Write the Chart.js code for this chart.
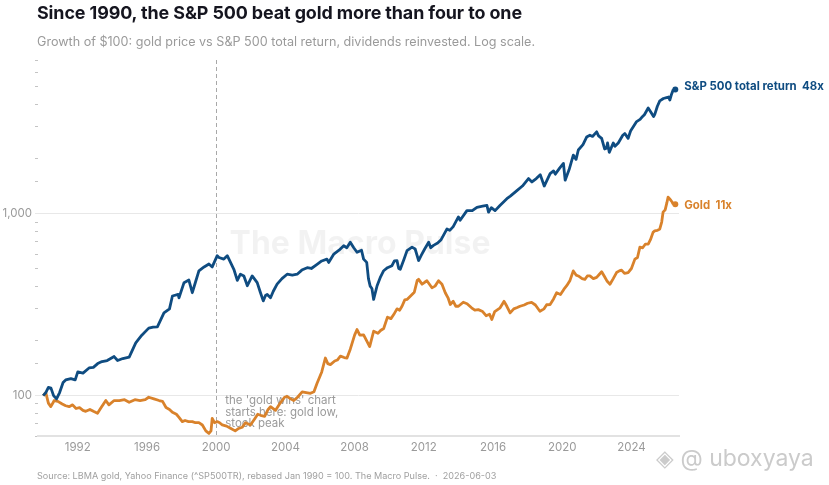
<!DOCTYPE html>
<html>
<head>
<meta charset="utf-8">
<script src="https://cdn.jsdelivr.net/npm/chart.js@4.4.1/dist/chart.umd.min.js"></script>
<style>
  html, body { margin: 0; padding: 0; background: #ffffff; }
  body { width: 829px; height: 485px; position: relative; overflow: hidden; font-family: Inter, "Noto Sans", sans-serif; }
  #title { position: absolute; left: 37px; top: 2px; font-size: 17.9px; font-weight: 700; color: #15151f; white-space: nowrap; letter-spacing: -0.1px; }
  #subtitle { position: absolute; left: 37px; top: 34px; font-size: 12.6px; color: #9a9a9a; white-space: nowrap; }
  #source { position: absolute; left: 37px; top: 470px; font-size: 9.1px; color: #a0a0a0; white-space: nowrap; }
  #wm { position: absolute; left: 656px; top: 444px; font-size: 23px; color: #cbcbcb; white-space: nowrap; }
  #wrap { position: absolute; left: 0; top: 0; width: 829px; height: 485px; }
</style>
</head>
<body>
<div id="wrap"><canvas id="c" width="829" height="485"></canvas></div>
<div id="title">Since 1990, the S&amp;P 500 beat gold more than four to one</div>
<div id="subtitle">Growth of $100: gold price vs S&amp;P 500 total return, dividends reinvested. Log scale.</div>
<div id="source">Source: LBMA gold, Yahoo Finance (^SP500TR), rebased Jan 1990 = 100. The Macro Pulse. &nbsp;·&nbsp; 2026-06-03</div>
<div id="wm">&#9672; @ uboxyaya</div>
<script>
// ---- Data ----
const spxYears = [1990.00,1990.15,1990.30,1990.45,1990.60,1990.77,1990.95,1991.15,1991.30,1991.60,1991.85,1992.00,1992.30,1992.65,1992.90,1993.15,1993.40,1993.70,1994.10,1994.30,1994.60,1994.97,1995.35,1995.70,1996.10,1996.35,1996.60,1996.98,1997.30,1997.47,1997.80,1997.85,1998.14,1998.42,1998.62,1998.80,1999.00,1999.30,1999.58,1999.77,2000.06,2000.16,2000.44,2000.64,2001.02,2001.22,2001.40,2001.60,2001.80,2002.08,2002.37,2002.55,2002.72,2002.85,2002.95,2003.14,2003.30,2003.52,2003.80,2004.10,2004.40,2004.68,2004.95,2005.26,2005.50,2005.83,2006.10,2006.40,2006.50,2006.80,2007.10,2007.37,2007.55,2007.75,2007.95,2008.14,2008.40,2008.52,2008.70,2008.80,2008.90,2009.00,2009.10,2009.30,2009.50,2009.68,2009.90,2010.16,2010.30,2010.45,2010.55,2010.64,2010.85,2011.03,2011.32,2011.50,2011.70,2011.85,2012.05,2012.28,2012.40,2012.56,2012.80,2013.00,2013.34,2013.50,2013.70,2014.00,2014.10,2014.49,2014.80,2015.07,2015.40,2015.65,2015.74,2015.90,2016.12,2016.40,2016.80,2017.00,2017.38,2017.70,2018.05,2018.25,2018.50,2018.73,2018.96,2019.30,2019.50,2019.60,2019.85,2020.07,2020.17,2020.40,2020.64,2020.80,2020.93,2021.20,2021.41,2021.60,2021.75,2021.99,2022.10,2022.28,2022.45,2022.56,2022.62,2022.72,2022.95,2023.05,2023.24,2023.50,2023.62,2023.81,2023.95,2024.30,2024.50,2024.60,2024.75,2024.97,2025.10,2025.28,2025.35,2025.50,2025.64,2025.85,2026.03,2026.15,2026.22,2026.32,2026.42];
const spxValues = [100,104,111,110,100,96,104,118,122,124,122,135,133,142,143,150,154,156,164,156,160,163,195,215,235,238,239,285,300,353,360,345,418,432,368,420,485,510,529,510,588,575,563,588,495,430,465,455,402,455,418,370,332,355,360,345,375,410,440,465,460,465,490,505,500,527,550,563,540,600,630,667,650,697,650,614,630,563,540,440,400,388,338,402,450,486,505,518,550,552,500,495,560,627,655,640,553,590,640,697,650,670,690,720,825,810,850,960,920,1040,1040,1085,1100,1110,1020,1080,1040,1110,1210,1250,1340,1420,1560,1495,1560,1640,1420,1660,1720,1650,1780,1890,1530,1750,2100,1990,2240,2400,2640,2700,2660,2820,2680,2595,2270,2290,2450,2175,2450,2350,2450,2700,2760,2595,2850,3210,3300,3390,3500,3810,3650,3420,3520,3900,4170,4300,4350,4380,4220,4540,4820];

const goldYears = [1990.00,1990.15,1990.30,1990.44,1990.64,1990.85,1991.10,1991.30,1991.50,1991.70,1991.90,1992.10,1992.30,1992.46,1992.70,1992.90,1993.14,1993.35,1993.62,1993.80,1994.10,1994.40,1994.70,1994.97,1995.30,1995.60,1995.90,1996.10,1996.40,1996.70,1996.90,1997.10,1997.30,1997.47,1997.70,1997.85,1998.04,1998.20,1998.40,1998.62,1998.80,1999.00,1999.20,1999.40,1999.58,1999.70,1999.77,1999.90,2000.06,2000.20,2000.35,2000.60,2000.85,2001.10,2001.30,2001.50,2001.70,2001.98,2002.20,2002.40,2002.56,2002.80,2003.00,2003.14,2003.43,2003.70,2003.95,2004.10,2004.30,2004.48,2004.70,2004.97,2005.20,2005.45,2005.65,2005.83,2006.10,2006.31,2006.45,2006.60,2006.85,2007.00,2007.18,2007.40,2007.56,2007.75,2008.00,2008.14,2008.30,2008.52,2008.70,2008.87,2009.10,2009.35,2009.50,2009.68,2009.90,2010.10,2010.26,2010.45,2010.60,2010.74,2010.90,2011.03,2011.22,2011.45,2011.62,2011.70,2011.90,2012.05,2012.18,2012.47,2012.65,2012.85,2013.05,2013.24,2013.40,2013.53,2013.70,2013.85,2014.00,2014.28,2014.50,2014.76,2014.95,2015.15,2015.40,2015.60,2015.80,2015.93,2016.10,2016.41,2016.64,2016.80,2016.99,2017.20,2017.40,2017.56,2017.80,2018.00,2018.23,2018.45,2018.71,2018.95,2019.10,2019.30,2019.50,2019.68,2019.90,2020.10,2020.26,2020.45,2020.64,2020.80,2020.93,2021.15,2021.31,2021.45,2021.60,2021.80,2021.99,2022.15,2022.28,2022.45,2022.60,2022.76,2022.95,2023.14,2023.30,2023.43,2023.60,2023.81,2024.00,2024.20,2024.35,2024.49,2024.65,2024.80,2024.97,2025.10,2025.25,2025.35,2025.50,2025.64,2025.75,2025.83,2025.95,2026.05,2026.12,2026.20,2026.26,2026.35,2026.42];
const goldValues = [100,104,91,87,94,93,90,88,87,89,85,86,83,82,84,82,80,86,94,89,94,94,95,92,95,94,95,98,96,94,93,86,84,81,79,76,72,73,72,72,71,71,69,64,62,64,75,71,72,71,69,68,66,64,66,67,71,69,74,79,78,77,84,87,83,91,98,99,96,94,98,105,104,103,105,117,135,161,150,148,155,157,165,162,161,180,215,231,215,216,200,186,226,220,228,234,270,265,279,300,295,310,336,338,352,370,430,436,410,420,428,392,400,428,410,368,345,317,330,310,310,326,320,304,295,297,290,275,280,262,290,304,330,310,285,300,305,310,315,322,326,315,291,300,316,317,340,368,360,385,402,430,485,460,455,440,436,455,455,440,447,465,480,450,425,410,440,475,485,490,470,475,500,563,575,655,650,680,680,720,790,806,810,825,900,1020,1050,1150,1235,1210,1190,1160,1126];

const xTickYears = [1992,1996,2000,2004,2008,2012,2016,2020,2024];
const yLabelValues = [100,1000];
const seriesNames = ['S&P 500 total return', 'Gold'];
const endLabels = ['S&P 500 total return  48x', 'Gold  11x'];
const markerYear = 2000;
const markerNote = ["the 'gold wins' chart", 'starts here: gold low,', 'stock peak'];
const watermarkText = 'The Macro Pulse';

const BLUE = '#0f4c81';
const ORANGE = '#d9822b';

const toPoints = (xs, ys) => xs.map((x, i) => ({ x: x, y: ys[i] }));

const extrasPlugin = {
  id: 'extras',
  beforeDatasetsDraw(chart) {
    const ctx = chart.ctx;
    const area = chart.chartArea;
    const xs = chart.scales.x;
    // watermark
    ctx.save();
    ctx.font = '700 32px Inter, "Noto Sans", sans-serif';
    ctx.fillStyle = 'rgba(0,0,0,0.05)';
    ctx.textAlign = 'center';
    ctx.textBaseline = 'middle';
    ctx.fillText(watermarkText, 360, 244);
    ctx.restore();
    // dashed marker line
    const px = xs.getPixelForValue(markerYear);
    ctx.save();
    ctx.strokeStyle = '#a8a8a8';
    ctx.lineWidth = 1;
    ctx.setLineDash([4, 3]);
    ctx.beginPath();
    ctx.moveTo(Math.round(px) + 0.5, area.top);
    ctx.lineTo(Math.round(px) + 0.5, area.bottom);
    ctx.stroke();
    ctx.restore();
    // note
    ctx.save();
    ctx.font = '11.5px Inter, "Noto Sans", sans-serif';
    ctx.fillStyle = '#9a9a9a';
    ctx.textAlign = 'left';
    ctx.textBaseline = 'middle';
    markerNote.forEach((t, i) => ctx.fillText(t, px + 9, 401 + i * 11.5));
    ctx.restore();
  },
  afterDatasetsDraw(chart) {
    const ctx = chart.ctx;
    const colors = [BLUE, ORANGE];
    const dy = [-2.5, 1.5];
    chart.data.datasets.forEach((ds, i) => {
      const meta = chart.getDatasetMeta(i);
      const last = meta.data[meta.data.length - 1];
      ctx.save();
      ctx.fillStyle = colors[i];
      ctx.beginPath();
      ctx.arc(last.x + 2, last.y, 3, 0, Math.PI * 2);
      ctx.fill();
      ctx.font = '700 11.4px Inter, "Noto Sans", sans-serif';
      ctx.textAlign = 'left';
      ctx.textBaseline = 'middle';
      ctx.fillText(endLabels[i], last.x + 11, last.y + dy[i]);
      ctx.restore();
    });
  }
};

new Chart(document.getElementById('c'), {
  type: 'line',
  data: {
    datasets: [
      { label: seriesNames[0], data: toPoints(spxYears, spxValues), borderColor: BLUE, borderWidth: 2.8, pointRadius: 0, tension: 0, borderJoinStyle: 'round' },
      { label: seriesNames[1], data: toPoints(goldYears, goldValues), borderColor: ORANGE, borderWidth: 2.8, pointRadius: 0, tension: 0, borderJoinStyle: 'round' }
    ]
  },
  options: {
    responsive: false,
    animation: false,
    devicePixelRatio: 1,
    layout: { padding: { left: 0, right: 150, top: 60, bottom: 27 } },
    plugins: { legend: { display: false }, tooltip: { enabled: false } },
    scales: {
      x: {
        type: 'linear',
        min: 1989.7,
        max: 2026.75,
        afterFit(s) { s.height = 22; },
        afterBuildTicks(s) { s.ticks = xTickYears.map(v => ({ value: v })); },
        grid: { display: false, drawTicks: false },
        border: { display: true, color: '#e2e2e2', width: 2 },
        ticks: { color: '#9a9a9a', font: { family: 'Inter', size: 11.5 }, padding: 5, maxRotation: 0, callback: v => String(v) }
      },
      y: {
        type: 'logarithmic',
        min: 60,
        max: 7000,
        afterFit(s) { s.width = 38; },
        border: { display: false },
        grid: {
          color: c => (c.tick && yLabelValues.includes(c.tick.value)) ? '#e8e8e8' : 'rgba(0,0,0,0)',
          lineWidth: 1,
          tickLength: 3,
          tickColor: c => (c.tick && yLabelValues.includes(c.tick.value)) ? '#e8e8e8' : '#c4c4c4'
        },
        ticks: {
          color: '#9a9a9a',
          font: { family: 'Inter', size: 11.5 },
          padding: 3,
          autoSkip: false,
          callback: v => v === 100 ? '100' : (v === 1000 ? '1,000' : '')
        }
      }
    }
  },
  plugins: [extrasPlugin]
});
</script>
</body>
</html>
